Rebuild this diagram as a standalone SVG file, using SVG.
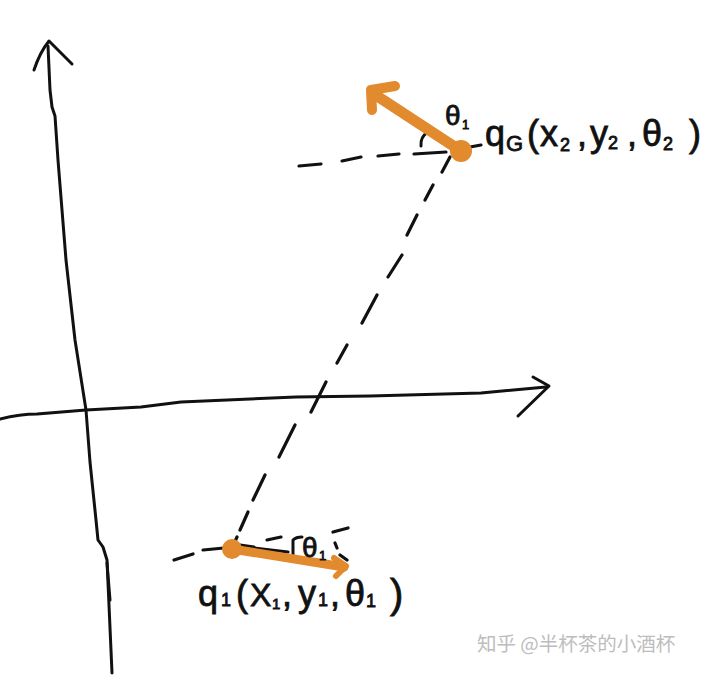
<svg xmlns="http://www.w3.org/2000/svg" width="714" height="676" viewBox="0 0 714 676">
<style>
.ink{fill:none;stroke:#111;stroke-width:3;stroke-linecap:round;stroke-linejoin:round}
.dash{fill:none;stroke:#111;stroke-width:3.2;stroke-linecap:round}
.or{fill:none;stroke:#E28A2E;stroke-linecap:round;stroke-linejoin:round}
.dot{fill:#E28A2E}
.t{font-family:"Liberation Sans",Arial,sans-serif;fill:#111;stroke:#111;stroke-width:0.8}
.sub{font-size:18px}
.wm{font-family:"Noto Sans CJK SC","Noto Sans",sans-serif;font-size:19.5px;fill:#bdbdbd}
</style>
<rect width="714" height="676" fill="#fff"/>

<g id="axes">
  <path class="ink" d="M48,46 L50,90 L52,107 L55,116 L58,160 L66,260 L75,340 L86,410 L90,462 L96,520 L98,540 L103,547 L107,560 L112,673"/>
  <path class="ink" d="M34,70 Q40,52 49,41 L72,64"/>
  <path class="ink" d="M107,563 L110,600"/>
  <path class="ink" d="M0,419 Q20,414 37,414 L86,410 L141,407 L181,402 L296,397 L370,396 L481,393 L546,387"/>
  <path class="ink" d="M533,377 L549,386 L518,416"/>
</g>

<g id="connectors">
  <path class="dash" d="M450,157 L442,172 M433,185 L425,200 M417,215 L407,235 M402,255 L388,277 M377,295 L362,323 M347,345 L337,363 M326,382 L311,412 M295,425 L279,457 M265,475 L253,500 M248,512 L240,530 M237,537 L233,546"/>
  <path class="dash" d="M299,166 L321,164 M342,161 L361,157 M378,156 L399,154 M414,154 L446,152 M470,147 L481,145"/>
  <path class="ink" d="M428,132 Q420,137 421,146"/>
  <path class="dash" d="M174,560 L193,554 M203,550 L224,548 M240,545 L254,547 M267,540 L281,537 M253,548 L288,552 M333,532 L348,528 M335,543 L337,548 M340,555 L347,560"/>
  <path class="ink" d="M293,557 L293,540 Q296,537 302,537"/>
</g>

<g id="goal">
  <path class="or" stroke-width="11" d="M461,151 L374,94"/>
  <path class="or" stroke-width="10" d="M372,110 L371,90 L395,86"/>
  <circle class="dot" cx="461" cy="151" r="11"/>
  <text class="t" x="445" y="125" font-size="28">θ</text>
  <text class="t" x="462" y="129" font-size="13">1</text>
  <g class="t" font-size="36">
    <text x="485" y="146">q</text>
    <text x="506" y="151" font-size="22">G</text>
    <text x="527" y="146">(</text>
    <text x="540" y="146">x</text>
    <text x="560" y="151" class="sub">2</text>
    <text x="577" y="146">,</text>
    <text x="590" y="146">y</text>
    <text x="608" y="149" class="sub">2</text>
    <text x="627" y="146">,</text>
    <text x="642" y="146">θ</text>
    <text x="663" y="150" class="sub">2</text>
    <text x="689" y="146">)</text>
  </g>
</g>

<g id="start">
  <path class="or" stroke-width="9" d="M232,549 L344,567"/>
  <path class="or" stroke-width="6" d="M334,558 L346,566 L336,576"/>
  <circle class="dot" cx="232" cy="549" r="10"/>
  <text class="t" x="302" y="557" font-size="28">θ</text>
  <text class="t" x="319" y="560" font-size="13">1</text>
  <g class="t" font-size="36">
    <text x="198" y="606">q</text>
    <text x="221" y="606" class="sub">1</text>
    <text x="236" y="606">(</text>
    <text x="250" y="606" font-size="32">X</text>
    <text x="272" y="609" font-size="15">1</text>
    <text x="282" y="606">,</text>
    <text x="298" y="606">y</text>
    <text x="318" y="606" class="sub">1</text>
    <text x="330" y="606">,</text>
    <text x="345" y="606">θ</text>
    <text x="366" y="607" class="sub">1</text>
    <text x="390" y="608" font-size="40">)</text>
  </g>
</g>

<text class="wm" x="477" y="651">知乎 @半杯茶的小酒杯</text>
</svg>
